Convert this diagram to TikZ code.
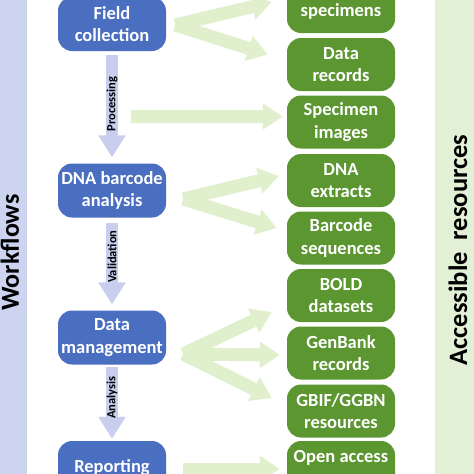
\documentclass[tikz,border=0pt]{standalone}
\usepackage{fontspec}
\setmainfont{Carlito}
\usetikzlibrary{arrows.meta,calc}
\definecolor{bluebox}{HTML}{4A6EC0}
\definecolor{greenbox}{HTML}{5C9631}
\definecolor{lavbar}{HTML}{CDD4F0}
\definecolor{lavarrow}{HTML}{C8CEEE}
\definecolor{lgarrow}{HTML}{E0F0CC}
\definecolor{lgbar}{HTML}{E2F0D6}
\begin{document}
\begin{tikzpicture}[x=1pt,y=-1pt,
 bbox/.style={fill=bluebox, rounded corners=14pt, minimum width=108pt, minimum height=54pt, inner sep=1pt, text=white, align=center, font=\bfseries\fontsize{18.5}{22.5}\selectfont},
 gbox/.style={bbox, fill=greenbox, minimum height=53pt},
 downarrow/.style={draw=lavarrow, line width=12pt, -{Triangle[width=26pt,length=22pt]}},
 garrow/.style={draw=lgarrow, line width=13pt, -{Triangle[width=25pt,length=20pt]}},
 arrlabel/.style={rotate=90, font=\bfseries\fontsize{12.5}{13}\selectfont, text=black, inner sep=0pt},
 sidelabel/.style={rotate=90, anchor=base, font=\bfseries\fontsize{26}{28}\selectfont, text=black, inner sep=0pt}]
\useasboundingbox (0,0) rectangle (474,474);
\clip (0,0) rectangle (474,474);
\fill[white] (0,0) rectangle (474,474);
\fill[lavbar] (0,0) rectangle (27,474);
\fill[lgbar] (435,0) rectangle (474,474);
\node[sidelabel] (wf) at (19,252.5) {Workflows};
\node[sidelabel, font=\bfseries\fontsize{26.5}{28}\selectfont] (ar) at (467,250) {Accessible\ \ resources};
% workflow boxes
\node[bbox] (fc) at (112,24) {Field\\collection};
\node[bbox] (dna) at (112,190.5) {DNA barcode\\analysis};
\node[bbox] (dm) at (112,337.5) {Data\\management};
\node[bbox] (rep) at (112,468) {Reporting};
% resource boxes
\node[gbox] (sp) at (341,6.5) {\mbox{}\\specimens};
\node[gbox] (dr) at (341,64.5) {Data\\records};
\node[gbox] (si) at (341,122) {Specimen\\images};
\node[gbox] (de) at (341,180.5) {DNA\\extracts};
\node[gbox] (bs) at (341,238) {Barcode\\sequences};
\node[gbox] (bd) at (341,295.5) {BOLD\\datasets};
\node[gbox] (gb) at (341,353) {GenBank\\records};
\node[gbox] (gg) at (341,411) {GBIF/GGBN\\resources};
\node[gbox] (oa) at (341,467.5) {Open access\\\mbox{}};
% down arrows
\draw[downarrow, shorten <=4pt, shorten >=6pt] (fc.south) -- node[arrlabel, pos=0.47] (l1) {Processing} (dna.north);
\draw[downarrow, shorten <=5pt, shorten >=6pt] (dna.south) -- node[arrlabel, pos=0.42] (l2) {Validation} (dm.north);
\draw[downarrow, shorten <=2pt, shorten >=2pt] (dm.south) -- node[arrlabel, pos=0.43] (l3) {Analysis} (rep.north);
% green arrows
\coordinate (v1) at ($(fc.east)+(9,1)$);
\draw[garrow] (v1) -- ($(sp.west)+(-15,-4.5)$);
\draw[garrow] (v1) -- ($(dr.west)+(-19,-10)$);
\coordinate (v2) at ($(fc.south)+(19,65.5)$);
\draw[garrow] (v2) -- ($(si.west)+(-4,-5.5)$);
\coordinate (v3) at ($(dna.east)+(17,8.5)$);
\draw[garrow] (v3) -- ($(de.west)+(-8,-4.5)$);
\draw[garrow] (v3) -- ($(bs.west)+(-10,-10)$);
\coordinate (v4) at ($(dm.east)+(17,16.5)$);
\draw[garrow] (v4) -- ($(bd.west)+(-15,16.5)$);
\draw[garrow] (v4) -- ($(gb.west)+(-7,2)$);
\draw[garrow] (v4) -- ($(gg.west)+(-15,-13)$);
\coordinate (v5) at ($(rep.east)+(17,1)$);
\draw[garrow] (v5) -- ($(oa.west)+(-7,1.5)$);
\end{tikzpicture}
\end{document}
